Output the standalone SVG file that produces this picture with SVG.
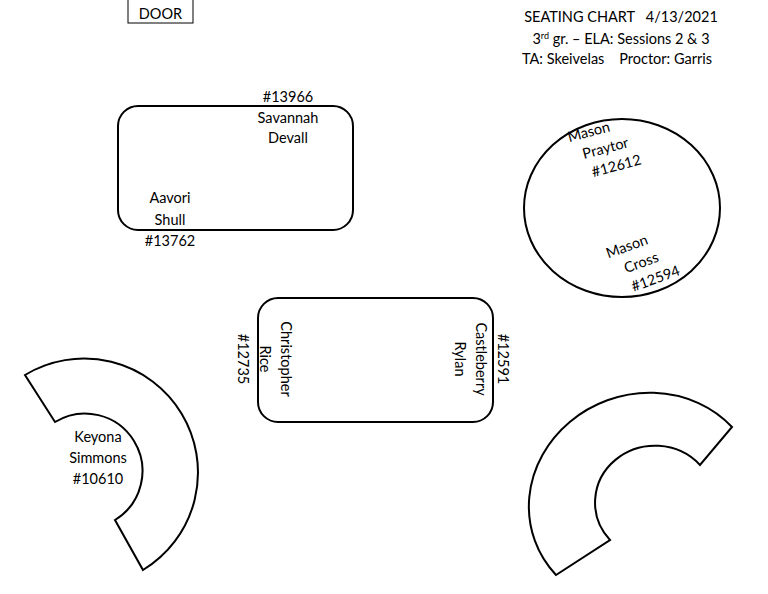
<svg xmlns="http://www.w3.org/2000/svg" width="768" height="594" viewBox="0 0 768 594">
<style>
.s{fill:#fff;stroke:#000;stroke-width:2}
text{font-family:Lato,"Liberation Sans",sans-serif;font-size:14.5px;fill:#000;text-anchor:middle;white-space:pre}
</style>
<rect width="768" height="594" fill="#fff"/>
<g id="door"><rect x="128" y="-1" width="65" height="24" fill="#fff" stroke="#000" stroke-width="1"/><text x="160.5" y="19">DOOR</text></g>
<g id="header">
<text x="621" y="22" xml:space="preserve">SEATING CHART   4/13/2021</text>
<text x="621" y="44">3<tspan font-size="9" dy="-5">rd</tspan><tspan dy="5"> gr. – ELA: Sessions 2 &amp; 3</tspan></text>
<text x="617" y="64" xml:space="preserve">TA: Skeivelas    Proctor: Garris</text>
</g>
<g id="table1"><rect class="s" x="118" y="106" width="235" height="124" rx="20"/>
<text x="288" y="102">#13966</text><text x="288" y="123">Savannah</text><text x="288" y="143">Devall</text>
<text x="170" y="203">Aavori</text><text x="170" y="225">Shull</text><text x="170" y="246">#13762</text></g>
<g id="table2"><ellipse class="s" cx="622" cy="208" rx="98" ry="89"/>
<g transform="rotate(-15 606 150)"><text x="594" y="133">Mason</text><text x="606" y="153">Praytor</text><text x="612" y="173">#12612</text></g>
<g transform="rotate(-20 640 265)"><text x="634" y="248">Mason</text><text x="642" y="268">Cross</text><text x="650" y="288">#12594</text></g></g>
<g id="table3"><rect class="s" x="258" y="298" width="235" height="124" rx="20"/>
<text transform="translate(281 359) rotate(90)">Christopher</text>
<text transform="translate(260 359) rotate(90)">Rice</text>
<text transform="translate(238 359) rotate(90)">#12735</text>
<text transform="translate(455 359) rotate(90)">Rylan</text>
<text transform="translate(476 359) rotate(90)">Castleberry</text>
<text transform="translate(498 359) rotate(90)">#12591</text></g>
<g id="table4"><path class="s" d="M25,375 A112,112 0 1 1 143,570 L115,520 A56,56 0 1 0 55,422 Z"/>
<text x="98" y="442">Keyona</text><text x="98" y="463">Simmons</text><text x="98" y="484">#10610</text></g>
<g id="table5"><path class="s" d="M556,575 A104,96 -20 1 1 732,427 L700,465 A57,54 0 1 0 610,540 Z"/></g>
<g id="connectors"/>
</svg>
